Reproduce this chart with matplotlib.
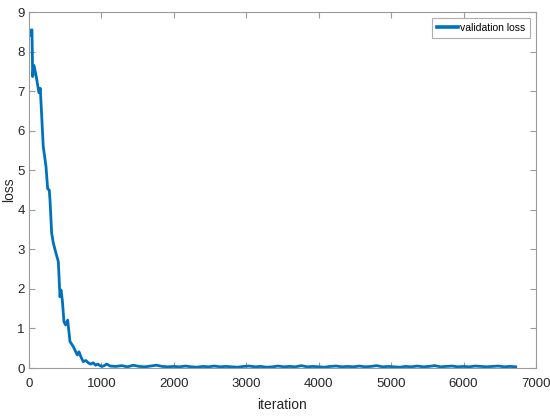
import numpy as np
import matplotlib
matplotlib.use("Agg")
import matplotlib.pyplot as plt

# steep part of the curve
head_iter = [0, 14, 28, 41, 51, 69, 97, 138, 156, 197, 235, 258, 280, 290, 313, 336,
             373, 405, 428, 442, 460, 483, 506, 534, 566, 612, 667, 690, 720, 750,
             785, 819, 850, 888, 920, 950, 980, 1010, 1040, 1073]
head_loss = [8.56, 8.40, 8.50, 8.55, 7.37, 7.65, 7.40, 6.96, 7.07, 5.60, 5.09, 4.53,
             4.50, 4.25, 3.41, 3.16, 2.90, 2.69, 1.80, 1.97, 1.72, 1.17, 1.09, 1.21,
             0.67, 0.54, 0.33, 0.41, 0.27, 0.16, 0.19, 0.13, 0.10, 0.13, 0.07, 0.10,
             0.06, 0.04, 0.06, 0.10]

# flat tail, one reading every 80 iterations
tail_start = 1120
tail_step = 80
tail_loss = [0.05, 0.04, 0.06, 0.03, 0.07, 0.04, 0.03, 0.05, 0.07, 0.04, 0.03, 0.04,
             0.03, 0.05, 0.03, 0.02, 0.04, 0.03, 0.05, 0.03, 0.04, 0.03, 0.02, 0.04,
             0.05, 0.03, 0.04, 0.02, 0.03, 0.05, 0.03, 0.04, 0.03, 0.06, 0.03, 0.04,
             0.03, 0.02, 0.04, 0.05, 0.03, 0.04, 0.03, 0.05, 0.03, 0.04, 0.06, 0.03,
             0.04, 0.03, 0.02, 0.04, 0.03, 0.05, 0.03, 0.04, 0.06, 0.03, 0.04, 0.05,
             0.03, 0.04, 0.03, 0.05, 0.04, 0.03, 0.04, 0.05, 0.03, 0.04, 0.03]

tail_iter = tail_start + tail_step * np.arange(len(tail_loss))
iters = np.concatenate([head_iter, tail_iter])
loss = np.concatenate([head_loss, tail_loss])

text_col = "#262626"
axis_col = "#9a9a9a"
plt.rcParams["font.family"] = ["Liberation Sans", "DejaVu Sans"]

fig = plt.figure(figsize=(5.5, 4.17), dpi=100)
ax = fig.add_axes([0.0527, 0.1175, 0.9218, 0.8537])

ax.plot(iters, loss, color="#0072BD", lw=2.0, label="validation loss")

ax.set_xlim(0, 7000)
ax.set_ylim(0, 9)
ax.set_xticks(range(0, 7001, 1000))
ax.set_yticks(range(0, 10))
ax.tick_params(direction="in", length=4, width=0.8, color=axis_col,
               labelcolor=text_col, labelsize=9.5, top=True, right=True,
               labeltop=False, labelright=False)
ax.tick_params(axis="x", pad=7)
ax.tick_params(axis="y", pad=3)
for s in ax.spines.values():
    s.set_color(axis_col)
    s.set_linewidth(0.8)

ax.set_xlabel("iteration", fontsize=10, color=text_col, labelpad=6)
ax.set_ylabel("loss", fontsize=10, color=text_col, labelpad=1)

leg = ax.legend(loc="upper right", fontsize=7.5, frameon=True, fancybox=False,
                handlelength=2.0, handletextpad=0.2, borderpad=0.45,
                borderaxespad=0.6)
leg.get_frame().set_edgecolor(axis_col)
leg.get_frame().set_linewidth(0.8)
leg.get_lines()[0].set_linewidth(2.6)

fig.savefig("out.png", dpi=100)
